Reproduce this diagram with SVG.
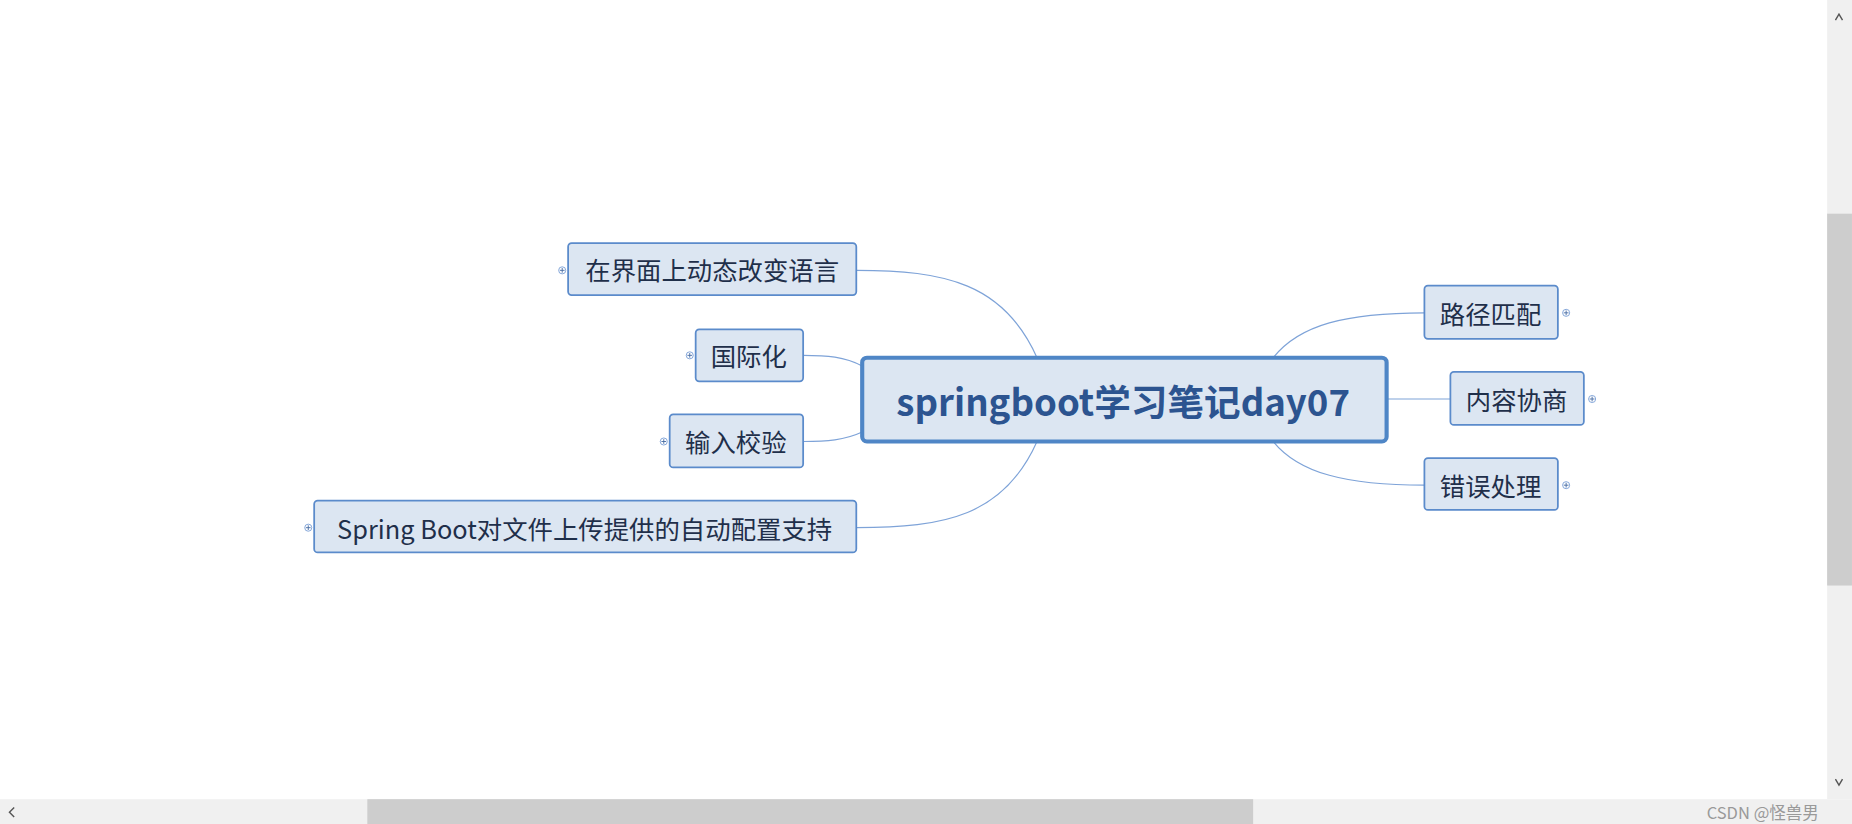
<svg xmlns="http://www.w3.org/2000/svg" width="1852" height="824" viewBox="0 0 1852 824">
<style>
.n{fill:#dce6f2;stroke:#5b8bcb;stroke-width:1.5}
.t{font-family:"Noto Sans CJK SC","Noto Sans",sans-serif;font-size:21.5px;fill:#1f2f4a;text-anchor:middle;dominant-baseline:central}
.c{fill:none;stroke:#7ea3d8;stroke-width:1}
.e{fill:#fff;stroke:#7ea3d8;stroke-width:0.8}
.p{stroke:#4a6fa5;stroke-width:0.8}
</style>
<rect width="1852" height="824" fill="#fff"/>
<g transform="scale(1.1811,1.1805)">
<g id="connectors">
<path class="c" d="M878,303 C850,240 800,229 725,229"/>
<path class="c" d="M730,310 C715,302 700,301 680,301"/>
<path class="c" d="M730,366 C715,373 700,374 680,374"/>
<path class="c" d="M878,374 C850,437 800,447 725,447"/>
<path class="c" d="M1078,303 C1100,275 1140,265 1206,265"/>
<path class="c" d="M1174,338 L1228,338"/>
<path class="c" d="M1078,374 C1100,401 1140,411 1206,411"/>
</g>
<g id="center"><rect x="730" y="303" width="444" height="71" rx="4" fill="#dce6f2" stroke="#4f86c6" stroke-width="3.5"/>
<text x="951" y="339" class="t" style="font-size:31px;font-weight:bold;fill:#2c5490">springboot学习笔记day07</text></g>
<g id="n1"><rect class="n" x="481" y="206" width="244" height="44" rx="3"/><text class="t" x="603" y="228">在界面上动态改变语言</text><circle class="e" cx="476" cy="229" r="3"/><path class="p" d="M474,229h4M476,227v4"/></g>
<g id="n2"><rect class="n" x="589" y="279" width="91" height="44" rx="3"/><text class="t" x="634" y="301">国际化</text><circle class="e" cx="584" cy="301" r="3"/><path class="p" d="M582,301h4M584,299v4"/></g>
<g id="n3"><rect class="n" x="567" y="351" width="113" height="45" rx="3"/><text class="t" x="623" y="374">输入校验</text><circle class="e" cx="562" cy="374" r="3"/><path class="p" d="M560,374h4M562,372v4"/></g>
<g id="n4"><rect class="n" x="266" y="424" width="459" height="44" rx="3"/><text class="t" x="495" y="447">Spring Boot对文件上传提供的自动配置支持</text><circle class="e" cx="261" cy="447" r="3"/><path class="p" d="M259,447h4M261,445v4"/></g>
<g id="n5"><rect class="n" x="1206" y="242" width="113" height="45" rx="3"/><text class="t" x="1262" y="265">路径匹配</text><circle class="e" cx="1326" cy="265" r="3"/><path class="p" d="M1324,265h4M1326,263v4"/></g>
<g id="n6"><rect class="n" x="1228" y="315" width="113" height="45" rx="3"/><text class="t" x="1284" y="338">内容协商</text><circle class="e" cx="1348" cy="338" r="3"/><path class="p" d="M1346,338h4M1348,336v4"/></g>
<g id="n7"><rect class="n" x="1206" y="388" width="113" height="44" rx="3"/><text class="t" x="1262" y="411">错误处理</text><circle class="e" cx="1326" cy="411" r="3"/><path class="p" d="M1324,411h4M1326,409v4"/></g>
<rect x="1547" y="0" width="21" height="677" fill="#f0f0f0"/>
<rect x="1547" y="181" width="21" height="315" fill="#cdcdcd"/>
<rect x="0" y="677" width="1568" height="21" fill="#f0f0f0"/>
<rect x="311" y="677" width="750" height="21" fill="#cdcdcd"/>
<path d="M1554,17 L1557,12 L1560,17 M1554,660 L1557,665 L1560,660 M12,684 L8,688 L12,692" fill="none" stroke="#555" stroke-width="1.2"/>
<text x="1445" y="688" style="font-family:'Noto Sans CJK SC',sans-serif;font-size:14px;fill:#999;dominant-baseline:central">CSDN @怪兽男</text>
</g>
</svg>
